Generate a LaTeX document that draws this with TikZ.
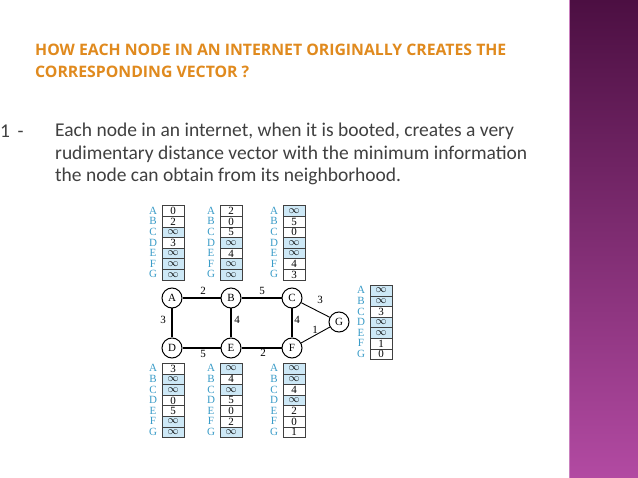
\documentclass[tikz,border=0pt]{standalone}
\usepackage{fontspec}
\setmainfont{Carlito}
\newfontfamily\serifd{Liberation Serif}
\newfontfamily\titlef{Open Sans}
\definecolor{ttl}{HTML}{E08A1E}
\definecolor{body}{HTML}{404040}
\definecolor{lett}{HTML}{3A9CC8}
\definecolor{cellb}{HTML}{CDE8F6}
\definecolor{bartop}{HTML}{4C0F42}
\definecolor{barbot}{HTML}{B24AA2}
\tikzset{
 rnode/.style={circle,draw,line width=1pt,fill=white,minimum size=20pt,inner sep=0pt,font=\serifd\fontsize{11}{11}\selectfont},
 link/.style={line width=1.5pt},
 slink/.style={line width=0.9pt},
 wlabel/.style={font=\serifd\fontsize{11}{11}\selectfont,inner sep=1pt},
 cell/.style={draw=black!75,line width=0.6pt,minimum width=21.6pt,minimum height=10.6pt,inner sep=0pt,anchor=north west,font=\serifd\fontsize{11}{10}\selectfont},
 rlet/.style={text=lett,font=\serifd\fontsize{11}{10}\selectfont,inner sep=0pt},
 bodytext/.style={anchor=west,text=body,font=\fontsize{19.5}{19.5}\selectfont,inner sep=0pt},
 titletext/.style={anchor=west,text=ttl,font=\titlef\bfseries\fontsize{15.8}{15.8}\selectfont,inner sep=0pt},
}
\newcommand\dvtable[4]{%
 \foreach \v [count=\i] in {#4}{%
  \pgfmathsetmacro\yy{#3+(\i-1)*10.6}
  \ifnum\v=9
   \node[cell,fill=cellb] (#1\i) at (#2,\yy) {$\infty$};
  \else
   \node[cell] (#1\i) at (#2,\yy) {\v};
  \fi
  \node[rlet] (#1l\i) at (#2-9,\yy+5.3) {\ifcase\i\or A\or B\or C\or D\or E\or F\or G\fi};
 }}
\begin{document}
\begin{tikzpicture}[x=1pt,y=-1pt]
\useasboundingbox (0,0) rectangle (638,478);
\fill[white] (0,0) rectangle (638,478);
\shade[top color=bartop,bottom color=barbot] (569,0) rectangle (638,478);
\draw[barbot!70!white,line width=0.8pt] (569.5,0) -- (569.5,478);
\node[titletext] (t1) at (35,50) {HOW EACH NODE IN AN INTERNET ORIGINALLY CREATES THE};
\node[titletext] (t2) at (35,72) {CORRESPONDING VECTOR ?};
\node[bodytext] (n1) at (0,131) {1\,\ -};
\node[bodytext] (p1) at (55,131) {Each node in an internet, when it is booted, creates a very};
\node[bodytext] (p2) at (55,154) {rudimentary distance vector with the minimum information};
\node[bodytext] (p3) at (55,176) {the node can obtain from its neighborhood.};
% graph
\node[rnode] (A) at (172,298) {A};
\node[rnode] (B) at (231,298) {B};
\node[rnode] (C) at (292,298) {C};
\node[rnode] (D) at (172,348) {D};
\node[rnode] (E) at (231,348) {E};
\node[rnode] (F) at (292,348) {F};
\node[rnode] (G) at (339,322) {G};
\draw[link] (A) -- (B); \draw[link] (B) -- (C);
\draw[link] (A) -- (D); \draw[link] (B) -- (E);
\draw[link] (C) -- (F); \draw[link] (D) -- (E);
\draw[link] (E) -- (F); \draw[slink] (C) -- (G); \draw[slink] (F) -- (G);
\node[wlabel] (w1) at (203,291) {2};
\node[wlabel] (w2) at (262,291) {5};
\node[wlabel] (w3) at (163,320) {3};
\node[wlabel] (w4) at (237,320) {4};
\node[wlabel] (w5) at (297,320) {4};
\node[wlabel] (w6) at (320,300) {3};
\node[wlabel] (w7) at (315,330) {1};
\node[wlabel] (w8) at (203,354) {5};
\node[wlabel] (w9) at (263,353) {2};
% tables
\dvtable{ta}{162}{205.5}{0,2,9,3,9,9,9}
\dvtable{tb}{220}{205.5}{2,0,5,9,4,9,9}
\dvtable{tc}{283}{205.5}{9,5,0,9,9,4,3}
\dvtable{td}{162}{363}{3,9,9,0,5,9,9}
\dvtable{te}{220}{363}{9,4,9,5,0,2,9}
\dvtable{tf}{283}{363}{9,9,4,9,2,0,1}
\dvtable{tg}{370}{285}{9,9,3,9,9,1,0}
\end{tikzpicture}
\end{document}
